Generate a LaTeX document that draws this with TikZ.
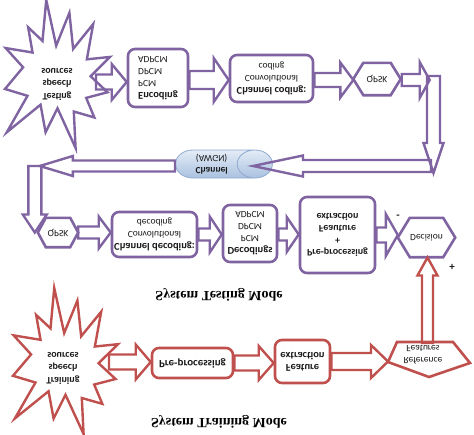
\documentclass[tikz,border=0pt]{standalone}
\usepackage{fontspec}
\setmainfont{Carlito}
\newfontfamily\lblfont{Liberation Serif}
\usetikzlibrary{calc,shapes.geometric}
\definecolor{pur}{HTML}{8064A2}
\definecolor{red1}{HTML}{C0504D}
\definecolor{txt}{HTML}{1A1A1A}
\definecolor{cylA}{HTML}{E4ECF6}
\definecolor{cylB}{HTML}{A9C1E0}
\definecolor{cylD}{HTML}{8EA9CF}
% block arrow: #1 colour, #2 from, #3 to, #4 shaft half width, #5 head half width, #6 head length
\newcommand\blockarr[6]{%
  \coordinate (bac) at ($(#3)!#6!(#2)$);
  \draw[barrow,draw=#1] ($(#2)!#4!90:(#3)$) -- ($(bac)!#4!90:(#3)$) -- ($(bac)!#5!90:(#3)$) -- (#3)
    -- ($(bac)!#5!-90:(#3)$) -- ($(bac)!#4!-90:(#3)$) -- ($(#2)!#4!-90:(#3)$) -- cycle;}
% hexagon round a node: #1 node, #2 colour, #3 inset
\newcommand\hexa[3]{%
  \draw[hexline,draw=#2] (#1.west) -- ($(#1.north west)+(#3,0)$) -- ($(#1.north east)+(-#3,0)$) -- (#1.east)
    -- ($(#1.south east)+(-#3,0)$) -- ($(#1.south west)+(#3,0)$) -- cycle;}
% explosion: #1 left, #2 bottom, #3 width, #4 height, #5 colour
\newcommand\explosion[5]{%
  \draw[starline,draw=#5,shift={(#1,#2)},xscale=#3/216,yscale=-#4/216]
  (108,58) -- (145.22,0) -- (141.55,53.25) -- (183.8,44.57) -- (167.02,73.15) -- (210.97,81.37)
  -- (176.07,104.75) -- (216,132.9) -- (168.37,129.42) -- (181.45,180.95) -- (140.2,144.57)
  -- (132.47,197.37) -- (105.32,149.35) -- (84.85,216) -- (77.15,156.27) -- (47.62,176.17)
  -- (56.67,139.37) -- (1.35,145.87) -- (37.22,117.75) -- (0,86.15) -- (46.27,76.17)
  -- (3.7,22.95) -- (73.12,63.2) -- (83.52,22.95) -- cycle;}
\newcommand\hd[1]{{\bfseries\fontsize{10.5}{12}\selectfont #1}}
\begin{document}
\begin{tikzpicture}[x=1pt,y=1pt,yscale=-1,transform shape,
  font=\fontsize{9.5}{12}\selectfont,
  box/.style={draw=pur,line width=2.6pt,rounded corners=7pt,fill=white,align=center,text=txt,inner sep=1pt},
  rbox/.style={box,draw=red1},
  hexnode/.style={inner sep=0pt,text=txt},
  barrow/.style={line width=2.4pt},
  hexline/.style={line width=2.6pt},
  starline/.style={line width=2.4pt,fill=white},
  bf/.style={font=\bfseries\fontsize{10}{12.5}\selectfont},
  lbl/.style={font=\lblfont\bfseries\fontsize{14}{16}\selectfont,text=black}]
\useasboundingbox (0,0) rectangle (474,434);
\fill[white] (0,0) rectangle (474,434);

% stars
\explosion{5}{148}{105}{148}{pur}
\explosion{13}{434}{105}{146}{red1}
\node[bf,align=center,text=txt] (tst) at (57,84) {Testing\\speech\\sources};
\node[bf,align=center,text=txt] (trn) at (63,368) {Training\\speech\\sources};

% testing row 1
\node[box,minimum width=60pt,minimum height=58pt,align=left] (enc) at (158,78)
  {\hd{Encoding}\\PCM\\DPCM\\ADPCM};
\node[box,minimum width=83pt,minimum height=47pt] (cc) at (271.5,78.5)
  {\hd{Channel coding:}\\Convolutional\\coding};
\node[hexnode,minimum width=47pt,minimum height=32pt] (q1) at (377,79) {QPSK};
\hexa{q1}{pur}{10}

% channel
\node[cylinder,draw=cylD,line width=0.8pt,minimum height=97pt,minimum width=28pt,shape aspect=1.6,
  top color=cylA,bottom color=cylB,align=center,text=txt,inner sep=1pt,anchor=west] (ch) at (175,164)
  {\textbf{Channel}\\(AWGN)};

% testing row 2
\node[hexnode,minimum width=40pt,minimum height=29pt] (q2) at (58,232.5) {QPSK};
\hexa{q2}{pur}{8}
\node[box,minimum width=85pt,minimum height=45pt] (cd) at (154.5,234.5)
  {\hd{Channel decoding:}\\Convolutional\\decoding};
\node[box,minimum width=54pt,minimum height=57pt] (dec) at (250,233.5)
  {\hd{Decodings}\\PCM\\DPCM\\ADPCM};
\node[box,minimum width=75pt,minimum height=76pt,font=\bfseries\fontsize{10}{12}\selectfont] (pf) at (337.5,235)
  {Pre-processing\\+\\Feauture\\extraction};
\node[hexnode,minimum width=57pt,minimum height=39pt] (dn) at (426.5,237.5) {Decision};
\hexa{dn}{pur}{12}
\node[text=txt,font=\bfseries\fontsize{11}{12}\selectfont] (minus) at (398,214) {-};
\node[text=txt,font=\bfseries\fontsize{11}{12}\selectfont] (plus) at (452,267) {+};

% training row
\node[rbox,minimum width=81pt,minimum height=30pt,font=\bfseries\fontsize{11}{12}\selectfont] (pp) at (192.5,363) {Pre-processing};
\node[rbox,minimum width=55pt,minimum height=43pt,font=\bfseries\fontsize{10.5}{12}\selectfont] (fe) at (302.5,361.5) {Feature\\extraction};
\draw[hexline,draw=red1] (397,342) -- (453,342) -- (470,363) -- (429,377) -- (388,362) -- cycle;
\node[text=txt,align=center] (rf) at (423,355) {Reference\\Features};

% labels
\node[lbl] (ltest) at (219,295) {System Testing Mode};
\node[lbl] (ltrain) at (219,422) {System Training Mode};

% connectors
\coordinate (a1s) at (96,82); \coordinate (a1e) at (a1s -| enc.west);
\blockarr{pur}{a1s}{a1e}{7.5pt}{18pt}{15pt}
\coordinate (a2s) at ($(enc.east)+(0,2)$); \coordinate (a2e) at (a2s -| cc.west);
\blockarr{pur}{a2s}{a2e}{9pt}{22pt}{15pt}
\coordinate (a3s) at ($(cc.east)+(0,1.5)$); \coordinate (a3e) at (a3s -| q1.west);
\blockarr{pur}{a3s}{a3e}{7pt}{17.5pt}{13pt}
\coordinate (a4s) at ($(q1.east)+(1,1)$); \coordinate (a4e) at ($(a4s)+(28,0)$);
\blockarr{pur}{a4s}{a4e}{6pt}{18pt}{10pt}
\coordinate (a5s) at (433.5,76); \coordinate (a5e) at (433.5,173);
\blockarr{pur}{a5s}{a5e}{6.5pt}{10pt}{30pt}
\coordinate (a6s) at (431,166); \coordinate (a6e) at (253,166);
\blockarr{pur}{a6s}{a6e}{6pt}{10.5pt}{50pt}
\coordinate (a7s) at ($(ch.west)+(0,2)$); \coordinate (a7e) at ($(a7s -| q2.west)+(2,0)$);
\blockarr{pur}{a7s}{a7e}{5.5pt}{10pt}{33pt}
\coordinate (a8e) at ($(q2.west)+(-3,0)$); \coordinate (a8s) at (a8e |- a7s);
\blockarr{pur}{a8s}{a8e}{6.5pt}{12pt}{18pt}
\coordinate (a9s) at (q2.east); \coordinate (a9e) at (a9s -| cd.west);
\blockarr{pur}{a9s}{a9e}{6pt}{16pt}{12pt}
\coordinate (a10s) at (cd.east); \coordinate (a10e) at (a10s -| dec.west);
\blockarr{pur}{a10s}{a10e}{6pt}{18pt}{12pt}
\coordinate (a11s) at ($(dec.east)+(0,1)$); \coordinate (a11e) at (a11s -| pf.west);
\blockarr{pur}{a11s}{a11e}{6pt}{17.5pt}{12pt}
\coordinate (a12s) at (pf.east); \coordinate (a12e) at (a12s -| dn.west);
\blockarr{pur}{a12s}{a12e}{7.5pt}{21pt}{12pt}
\coordinate (ra) at ($(rf)+(4.5,-12)$); \coordinate (rb) at ($(dn)+(1,20)$);
\blockarr{red1}{ra}{rb}{5.5pt}{10pt}{18pt}
\coordinate (a14s) at (109,362); \coordinate (a14e) at (a14s -| pp.west);
\blockarr{red1}{a14s}{a14e}{7.5pt}{17.5pt}{15pt}
\coordinate (a15s) at (pp.east); \coordinate (a15e) at (a15s -| fe.west);
\blockarr{red1}{a15s}{a15e}{7.5pt}{17pt}{15pt}
\coordinate (a16s) at (fe.east); \coordinate (a16e) at (388,361.5);
\blockarr{red1}{a16s}{a16e}{8.5pt}{16.5pt}{17pt}
\end{tikzpicture}
\end{document}
